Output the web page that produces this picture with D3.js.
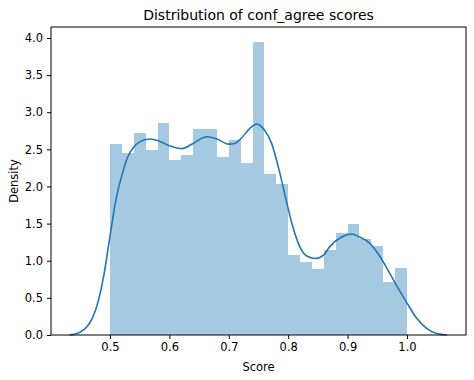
<!DOCTYPE html>
<html>
<head>
<script src="https://d3js.org/d3.v7.min.js"></script>
<style>
body { margin: 0; background: #fff; }
text { font-family: "DejaVu Sans", sans-serif; fill: #000; }
</style>
</head>
<body>
<svg id="chart" width="474" height="380"></svg>
<script>
// histogram: 25 bins of 0.02 from 0.5 to 1.0
var binStart = 0.5, binWidth = 0.02;
var density = [2.57, 2.45, 2.72, 2.49, 2.86, 2.36, 2.42, 2.77, 2.77, 2.40,
               2.63, 2.32, 3.95, 2.17, 2.04, 1.08, 0.98, 0.885, 1.145, 1.37,
               1.50, 1.29, 1.20, 0.72, 0.90];
// kde curve
var kdeX = [0.432, 0.44, 0.45, 0.46, 0.47, 0.48, 0.49, 0.50, 0.51, 0.52, 0.53, 0.54, 0.55,
            0.567, 0.58, 0.60, 0.621, 0.64, 0.663, 0.68, 0.70, 0.71, 0.72, 0.735, 0.747,
            0.76, 0.772, 0.786, 0.797, 0.808, 0.82, 0.832, 0.845, 0.86, 0.87, 0.89, 0.907,
            0.92, 0.938, 0.955, 0.971, 0.985, 1.00, 1.015, 1.033, 1.05, 1.067];
var kdeY = [0.0, 0.01, 0.04, 0.10, 0.22, 0.45, 0.82, 1.33, 1.82, 2.15, 2.40, 2.53, 2.60,
            2.64, 2.62, 2.55, 2.51, 2.58, 2.67, 2.64, 2.57, 2.58, 2.64, 2.78, 2.84,
            2.76, 2.58, 2.18, 1.80, 1.45, 1.18, 1.06, 1.03, 1.08, 1.19, 1.32, 1.36,
            1.32, 1.23, 1.05, 0.83, 0.63, 0.43, 0.24, 0.09, 0.02, 0.0];
var xTicks = [0.5, 0.6, 0.7, 0.8, 0.9, 1.0];
var yTicks = [0.0, 0.5, 1.0, 1.5, 2.0, 2.5, 3.0, 3.5, 4.0];

var margin = {left: 51, right: 8, top: 27, bottom: 45};
var width = 474 - margin.left - margin.right,
    height = 380 - margin.top - margin.bottom;

var svg = d3.select("#chart");
var g = svg.append("g").attr("transform", "translate(" + margin.left + "," + margin.top + ")");

var x = d3.scaleLinear().domain([0.4007, 1.0993]).range([0, width]);
var y = d3.scaleLinear().domain([0, 4.1475]).range([height, 0]);

g.selectAll("rect.bar")
  .data(density)
  .enter().append("rect")
  .attr("class", "bar")
  .attr("x", function(d, i) { return x(binStart + i * binWidth); })
  .attr("width", function(d, i) { return x(binStart + (i + 1) * binWidth) - x(binStart + i * binWidth); })
  .attr("y", function(d) { return y(d); })
  .attr("height", function(d) { return y(0) - y(d); })
  .attr("fill", "#a5c9e1")
  .attr("shape-rendering", "crispEdges");

var line = d3.line()
  .x(function(d) { return x(d[0]); })
  .y(function(d) { return y(d[1]); })
  .curve(d3.curveMonotoneX);

g.append("path")
  .datum(d3.zip(kdeX, kdeY))
  .attr("d", line)
  .attr("fill", "none")
  .attr("stroke", "#1f77b4")
  .attr("stroke-width", 1.6);

var xAxis = g.append("g")
  .attr("transform", "translate(0," + height + ")")
  .call(d3.axisBottom(x).tickValues(xTicks).tickFormat(d3.format(".1f")).tickSize(4).tickPadding(4));
var yAxis = g.append("g")
  .call(d3.axisLeft(y).tickValues(yTicks).tickFormat(d3.format(".1f")).tickSize(4).tickPadding(4));
[xAxis, yAxis].forEach(function(a) {
  a.select(".domain").remove();
  a.selectAll("text").style("font-size", "11.5px").style("font-family", "DejaVu Sans");
  a.selectAll("line").attr("stroke-width", 1);
});

// frame
g.append("rect")
  .attr("width", width).attr("height", height)
  .attr("fill", "none").attr("stroke", "#000").attr("stroke-width", 1);

svg.append("text")
  .attr("x", margin.left + width / 2).attr("y", 20)
  .attr("text-anchor", "middle").style("font-size", "14px")
  .text("Distribution of conf_agree scores");

svg.append("text")
  .attr("x", margin.left + width / 2).attr("y", 371)
  .attr("text-anchor", "middle").style("font-size", "11.5px")
  .text("Score");

svg.append("text")
  .attr("transform", "translate(18," + (margin.top + height / 2) + ") rotate(-90)")
  .attr("text-anchor", "middle").style("font-size", "11.5px")
  .text("Density");
</script>
</body>
</html>
